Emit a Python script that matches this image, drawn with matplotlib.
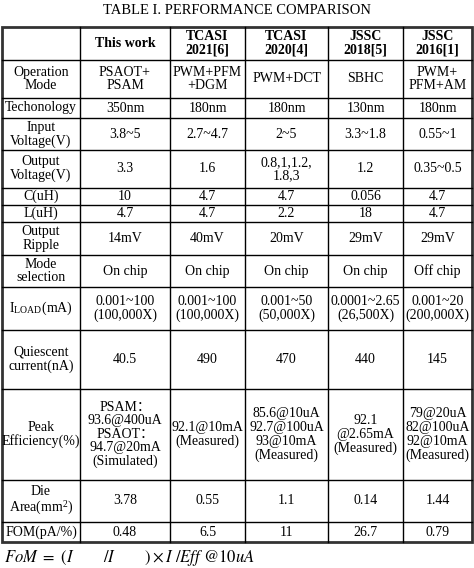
import matplotlib.pyplot as plt
from matplotlib.patches import Rectangle

headers = ["", "This work", "TCASI\n2021[6]", "TCASI\n2020[4]", "JSSC\n2018[5]", "JSSC\n2016[1]"]
row_labels = ["Operation\nMode", "Techonology", "Input\nVoltage(V)", "Output\nVoltage(V)", "C(uH)", "L(uH)",
              "Output\nRipple", "Mode\nselection", r"I$_{\mathregular{LOAD}}$(mA)", "Quiescent\ncurrent(nA)",
              "Peak\nEfficiency(%)", "Die\nArea(mm$^{\\mathregular{2}}$)", "FOM(pA/%)"]
this_work = ["PSAOT+\nPSAM", "350nm", "3.8~5", "3.3", "10", "4.7", "14mV", "On chip", "0.001~100\n(100,000X)",
             "40.5", "PSAM\uff1a\n93.6@400uA\nPSAOT\uff1a\n94.7@20mA\n(Simulated)", "3.78", "0.48"]
tcasi_2021 = ["PWM+PFM\n+DGM", "180nm", "2.7~4.7", "1.6", "4.7", "4.7", "40mV", "On chip", "0.001~100\n(100,000X)",
              "490", "92.1@10mA\n(Measured)", "0.55", "6.5"]
tcasi_2020 = ["PWM+DCT", "180nm", "2~5", "0.8,1,1.2,\n1.8,3", "4.7", "2.2", "20mV", "On chip", "0.001~50\n(50,000X)",
              "470", "85.6@10uA\n92.7@100uA\n93@10mA\n(Measured)", "1.1", "11"]
jssc_2018 = ["SBHC", "130nm", "3.3~1.8", "1.2", "0.056", "18", "29mV", "On chip", "0.0001~2.65\n(26,500X)",
             "440", "92.1\n@2.65mA\n(Measured)", "0.14", "26.7"]
jssc_2016 = ["PWM+\nPFM+AM", "180nm", "0.55~1", "0.35~0.5", "4.7", "4.7", "29mV", "Off chip", "0.001~20\n(200,000X)",
             "145", "79@20uA\n82@100uA\n92@10mA\n(Measured)", "1.44", "0.79"]

# layout in pixels
col_edges = [2, 80, 170, 245, 328, 403, 472]
row_edges = [27, 60, 98, 118, 150, 188, 205, 222, 255, 287, 330, 389, 480, 522, 542]

plt.rcParams['font.family'] = ['Liberation Serif', 'Noto Sans CJK SC', 'DejaVu Serif']
plt.rcParams['mathtext.fontset'] = 'stix'
fig = plt.figure(figsize=(4.74, 5.68), dpi=100)
ax = fig.add_axes([0, 0, 1, 1])
ax.set_xlim(0, 474)
ax.set_ylim(568, 0)
ax.axis('off')

ax.text(237, 10, "TABLE I. PERFORMANCE COMPARISON", ha='center', va='center', fontsize=10.5)

ax.add_patch(Rectangle((col_edges[0], row_edges[0]), col_edges[-1] - col_edges[0],
                       row_edges[-1] - row_edges[0], fill=False, lw=2, ec='#333333'))
for x in col_edges[1:-1]:
    ax.plot([x, x], [row_edges[0], row_edges[-1]], color='black', lw=1)
for y in row_edges[1:-1]:
    ax.plot([col_edges[0], col_edges[-1]], [y, y], color='black', lw=1)

def cx(i):
    return (col_edges[i] + col_edges[i + 1]) / 2

def cy(j):
    return (row_edges[j] + row_edges[j + 1]) / 2

for i, h in enumerate(headers):
    ax.text(cx(i), cy(0), h, ha='center', va='center', fontsize=10, fontweight='bold', linespacing=1.05)

columns = [row_labels, this_work, tcasi_2021, tcasi_2020, jssc_2018, jssc_2016]
for i, col in enumerate(columns):
    for j, val in enumerate(col):
        ax.text(cx(i), cy(j + 1), val, ha='center', va='center', fontsize=10, linespacing=1.05)

ax.text(4, 558, r"$FoM\ =\ \left(I_{\ \ \ \ \ \ \ \ \ \ \ }/I_{\ \ \ \ \ \ \ \ \ \ \ }\right)\times I_{\ }/Eff\ @10uA$",
        ha='left', va='center', fontsize=12)

fig.savefig("out.png", dpi=100)
